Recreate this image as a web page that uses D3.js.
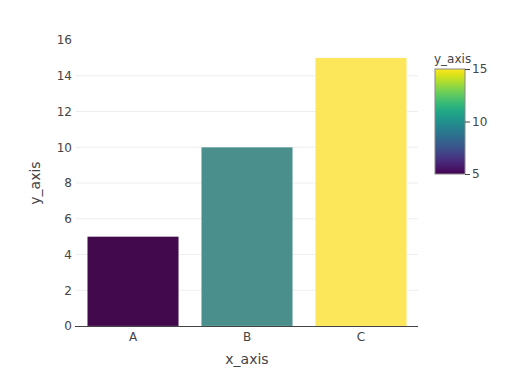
<!DOCTYPE html>
<html><head><meta charset="utf-8">
<script src="https://cdn.jsdelivr.net/npm/d3@7"></script>
<style>body{margin:0;background:#fff}text{font-family:"DejaVu Sans",verdana,sans-serif;fill:#444}</style>
</head><body><svg id="c" width="519" height="380"></svg>
<script>
const categories = ["A","B","C"];
const values = [5,10,15];
const yTicks = [0,2,4,6,8,10,12,14,16];
const cbTicks = [5,10,15];
const xTitle = "x_axis", yTitle = "y_axis", cbTitle = "y_axis";

const svg = d3.select("#c");
const L=76,R=418,T=40,B=326;
const x = d3.scaleBand().domain(categories).range([L,R]).paddingInner(0.2).paddingOuter(0.1);
const y = d3.scaleLinear().domain([0,16]).range([B,T]);
const color = d3.scaleLinear().domain([5,10,15]).range(["#420a4d","#4a8f8b","#fce65a"]);

// gridlines
svg.append("g").selectAll("line").data(yTicks.filter(t=>t>0&&t<16)).join("line")
  .attr("x1",L).attr("x2",R).attr("y1",d=>y(d)).attr("y2",d=>y(d))
  .attr("stroke","#eee").attr("stroke-width",1);

// bars
svg.append("g").selectAll("rect").data(values).join("rect")
  .attr("x",(d,i)=>x(categories[i])).attr("width",x.bandwidth())
  .attr("y",d=>y(d)).attr("height",d=>y(0)-y(d))
  .attr("fill",d=>color(d)).attr("stroke","#fff").attr("stroke-opacity",0.3).attr("stroke-width",0.5);

// y axis
const ya = svg.append("g").attr("transform",`translate(${L},0)`)
  .call(d3.axisLeft(y).tickValues(yTicks).tickSize(0).tickPadding(4));
ya.select(".domain").remove();
ya.selectAll("text").attr("font-size",12).style("fill","#444").attr("font-family",null);

// x axis
const xa = svg.append("g").attr("transform",`translate(0,${B})`)
  .call(d3.axisBottom(x).tickSize(0).tickPadding(6));
xa.select(".domain").remove();
xa.selectAll("text").attr("font-size",12).style("fill","#444").attr("font-family",null);
svg.append("line").attr("x1",L-1).attr("x2",R).attr("y1",B+0.5).attr("y2",B+0.5).attr("stroke","#444").attr("stroke-width",1);

// titles
svg.append("text").attr("x",(L+R)/2).attr("y",364).attr("text-anchor","middle").attr("font-size",14).text(xTitle);
svg.append("text").attr("transform",`translate(36,${(T+B)/2}) rotate(-90)`).attr("text-anchor","middle").attr("dominant-baseline","middle").attr("font-size",14).text(yTitle);

// colorbar
const cbL=435,cbW=30,cbT=69,cbB=174;
const cy = d3.scaleLinear().domain([5,15]).range([cbB,cbT]);
const grad = svg.append("defs").append("linearGradient").attr("id","g").attr("x1",0).attr("x2",0).attr("y1",1).attr("y2",0);
d3.range(0,1.0001,0.05).forEach(t=>grad.append("stop").attr("offset",t).attr("stop-color",d3.interpolateViridis(t)));
svg.append("rect").attr("x",cbL).attr("y",cbT).attr("width",cbW).attr("height",cbB-cbT).attr("fill","url(#g)").attr("stroke","#888").attr("stroke-width",1);
const ca = svg.append("g").attr("transform",`translate(${cbL+cbW},0)`)
  .call(d3.axisRight(cy).tickValues(cbTicks).tickSize(5).tickPadding(2));
ca.select(".domain").remove();
ca.selectAll("line").attr("stroke","#444");
ca.selectAll("text").attr("font-size",12).style("fill","#444").attr("font-family",null);
svg.append("text").attr("x",cbL-1).attr("y",63).attr("font-size",12).text(cbTitle);
</script></body></html>
